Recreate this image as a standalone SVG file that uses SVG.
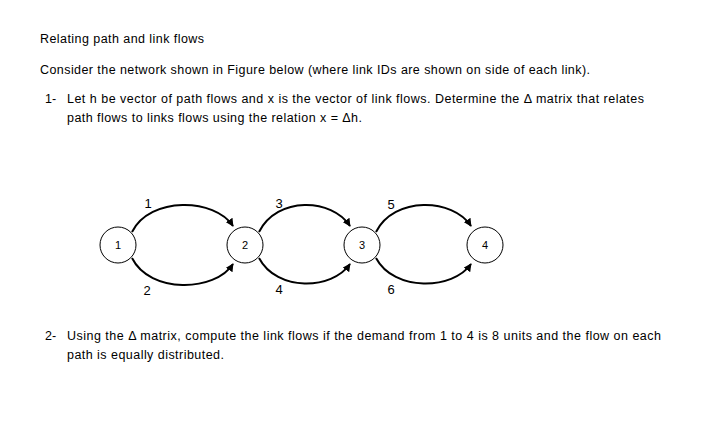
<svg xmlns="http://www.w3.org/2000/svg" width="702" height="433" viewBox="0 0 702 433">
<style>
.t{font-family:"Liberation Sans",Arial,sans-serif;font-size:12.5px;fill:#000}
.n{font-family:"Liberation Sans",Arial,sans-serif;font-size:11px;text-anchor:middle;fill:#000}
.l{font-family:"Liberation Sans",Arial,sans-serif;font-size:13px;text-anchor:middle;fill:#000}
circle{fill:#fff;stroke:#000;stroke-width:1}
.e{fill:none;stroke:#000;stroke-width:2;marker-end:url(#a)}
</style>
<defs><marker id="a" viewBox="0 0 10 10" refX="9" refY="5" markerWidth="4" markerHeight="4" orient="auto"><path d="M0,0L10,5L0,10z" fill="#000"/></marker></defs>
<rect width="702" height="433" fill="#fff"/>
<text class="t" x="40" y="43" textLength="164">Relating path and link flows</text>
<text class="t" x="40" y="74" textLength="550">Consider the network shown in Figure below (where link IDs are shown on side of each link).</text>
<text class="t" x="45" y="103">1-</text>
<text class="t" x="67" y="103" textLength="577">Let h be vector of path flows and x is the vector of link flows. Determine the Δ matrix that relates</text>
<text class="t" x="67" y="122" textLength="295">path flows to links flows using the relation x = Δh.</text>
<text class="t" x="45" y="340">2-</text>
<text class="t" x="67" y="340" textLength="594">Using the Δ matrix, compute the link flows if the demand from 1 to 4 is 8 units and the flow on each</text>
<text class="t" x="67" y="359" textLength="157">path is equally distributed.</text>
<g id="connectors">
<path class="e" d="M132,232 C150,196 215,198 233,226"/>
<path class="e" d="M132,258 C150,294 215,292 233,264"/>
<path class="e" d="M259,232 C277,196 332,198 350,226"/>
<path class="e" d="M259,258 C277,292 332,290 350,264"/>
<path class="e" d="M376,232 C394,196 453,198 471,226"/>
<path class="e" d="M376,258 C394,292 453,290 471,264"/>
</g>
<g id="labels">
<text class="l" x="148" y="208">1</text>
<text class="l" x="147" y="295">2</text>
<text class="l" x="279" y="208">3</text>
<text class="l" x="279" y="294">4</text>
<text class="l" x="391" y="209">5</text>
<text class="l" x="391" y="294">6</text>
</g>
<g id="node1"><circle cx="118" cy="245" r="18"/><text class="n" x="118" y="249">1</text></g>
<g id="node2"><circle cx="245" cy="245" r="18"/><text class="n" x="245" y="249">2</text></g>
<g id="node3"><circle cx="362" cy="245" r="18"/><text class="n" x="362" y="249">3</text></g>
<g id="node4"><circle cx="485" cy="245" r="18"/><text class="n" x="485" y="249">4</text></g>
</svg>
